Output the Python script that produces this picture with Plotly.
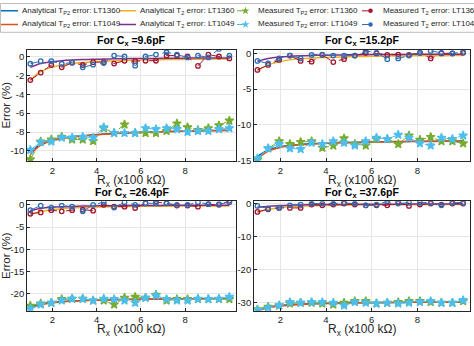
import plotly.graph_objects as go

W, H = 474, 346

# ---------------- data ----------------
x_rx = [1.00, 1.47, 1.95, 2.42, 2.89, 3.37, 3.84, 4.32, 4.79, 5.26,
        5.74, 6.21, 6.68, 7.16, 7.63, 8.11, 8.58, 9.05, 9.53, 10.00]

titles = ["For C<sub>x</sub> =9.6pF", "For C<sub>x</sub> =15.2pF",
          "For C<sub>x</sub> =26.4pF", "For C<sub>x</sub> =37.6pF"]

# analytical curves
ana_tp2_1360 = [
    [-10.2, -9.3, -8.9, -8.65, -8.5, -8.4, -8.3, -8.22, -8.16, -8.1, -8.06, -8.02, -7.98, -7.95, -7.92, -7.9, -7.88, -7.86, -7.84, -7.82],
    [-14.4, -13.5, -13.1, -12.9, -12.75, -12.65, -12.58, -12.52, -12.48, -12.44, -12.41, -12.38, -12.36, -12.34, -12.32, -12.3, -12.29, -12.28, -12.27, -12.26],
    [-23.0, -22.3, -21.95, -21.75, -21.6, -21.5, -21.42, -21.36, -21.31, -21.27, -21.23, -21.2, -21.17, -21.15, -21.13, -21.11, -21.09, -21.07, -21.06, -21.05],
    [-32.2, -31.3, -30.85, -30.6, -30.42, -30.3, -30.2, -30.12, -30.06, -30.01, -29.97, -29.93, -29.9, -29.87, -29.85, -29.83, -29.81, -29.79, -29.78, -29.77],
]
ana_tp2_1049 = [
    [-10.4, -9.4, -8.95, -8.7, -8.53, -8.42, -8.32, -8.24, -8.18, -8.12, -8.07, -8.03, -7.99, -7.96, -7.93, -7.91, -7.89, -7.87, -7.85, -7.83],
    [-14.7, -13.7, -13.2, -12.95, -12.8, -12.7, -12.62, -12.56, -12.51, -12.47, -12.44, -12.41, -12.39, -12.37, -12.35, -12.33, -12.32, -12.31, -12.3, -12.29],
    [-23.3, -22.5, -22.1, -21.85, -21.68, -21.56, -21.47, -21.4, -21.35, -21.3, -21.26, -21.23, -21.2, -21.17, -21.15, -21.13, -21.11, -21.09, -21.08, -21.07],
    [-32.5, -31.5, -31.0, -30.7, -30.5, -30.37, -30.26, -30.18, -30.11, -30.05, -30.0, -29.96, -29.93, -29.9, -29.87, -29.85, -29.83, -29.81, -29.8, -29.79],
]
ana_t2_1360 = [
    [-2.5, -1.6, -1.15, -0.9, -0.75, -0.64, -0.56, -0.5, -0.46, -0.42, -0.39, -0.37, -0.35, -0.33, -0.32, -0.3, -0.29, -0.28, -0.27, -0.26],
    [-2.4, -1.6, -1.15, -0.9, -0.75, -0.65, -0.57, -0.52, -0.48, -0.44, -0.41, -0.39, -0.37, -0.35, -0.34, -0.33, -0.32, -0.31, -0.3, -0.3],
    [-2.2, -1.5, -1.1, -0.85, -0.7, -0.6, -0.52, -0.46, -0.42, -0.38, -0.35, -0.33, -0.31, -0.29, -0.28, -0.27, -0.26, -0.25, -0.24, -0.23],
    [-2.6, -1.7, -1.25, -0.98, -0.8, -0.68, -0.6, -0.53, -0.48, -0.44, -0.41, -0.38, -0.36, -0.34, -0.32, -0.31, -0.3, -0.29, -0.28, -0.27],
]
ana_t2_1049 = [
    [-1.15, -0.75, -0.55, -0.45, -0.38, -0.33, -0.3, -0.27, -0.25, -0.23, -0.22, -0.21, -0.2, -0.19, -0.18, -0.17, -0.17, -0.16, -0.16, -0.15],
    [-1.1, -0.7, -0.5, -0.4, -0.33, -0.28, -0.25, -0.22, -0.2, -0.18, -0.17, -0.16, -0.15, -0.14, -0.13, -0.12, -0.12, -0.11, -0.11, -0.1],
    [-1.3, -0.8, -0.55, -0.42, -0.34, -0.28, -0.24, -0.21, -0.18, -0.16, -0.14, -0.13, -0.12, -0.11, -0.1, -0.09, -0.08, -0.08, -0.07, -0.07],
    [-1.2, -0.8, -0.6, -0.47, -0.39, -0.33, -0.29, -0.26, -0.23, -0.21, -0.19, -0.18, -0.17, -0.16, -0.15, -0.14, -0.13, -0.13, -0.12, -0.12],
]

# measured
meas_tp2_1360 = [
    [-10.9, -9.0, -8.8, -8.5, -8.8, -8.8, -8.95, -7.6, -8.1, -7.2, -8.1, -8.1, -8.1, -7.9, -7.1, -7.5, -7.8, -7.6, -7.3, -6.8],
    [-14.9, -13.3, -12.3, -12.7, -12.4, -12.3, -13.2, -12.9, -11.9, -12.7, -12.9, -12.0, -12.0, -12.7, -11.5, -12.1, -11.7, -12.3, -12.3, -12.6],
    [-22.7, -22.2, -22.0, -21.2, -21.1, -21.1, -21.5, -21.5, -22.4, -20.9, -20.7, -20.9, -20.2, -21.5, -21.2, -21.2, -21.2, -21.2, -21.2, -21.2],
    [-32.0, -31.2, -30.8, -30.2, -30.0, -30.0, -30.2, -30.5, -30.0, -29.5, -29.5, -30.2, -30.0, -29.8, -29.5, -29.5, -29.8, -30.0, -30.0, -29.5],
]
meas_tp2_1049 = [
    [-9.9, -9.1, -9.0, -8.6, -8.6, -8.5, -8.6, -7.5, -8.1, -8.1, -8.1, -7.6, -7.7, -7.6, -7.7, -8.0, -7.9, -7.9, -7.7, -7.6],
    [-14.7, -13.3, -12.7, -13.3, -13.4, -12.5, -12.7, -12.3, -12.5, -12.9, -12.3, -11.8, -12.0, -11.4, -11.8, -12.6, -12.9, -11.8, -12.0, -11.5],
    [-23.3, -22.4, -22.0, -21.5, -21.1, -21.1, -21.5, -21.1, -21.2, -21.5, -22.0, -20.9, -20.4, -21.2, -21.5, -21.5, -21.1, -21.2, -21.1, -20.7],
    [-32.2, -31.5, -30.8, -29.8, -30.0, -29.8, -29.8, -30.0, -30.8, -29.8, -30.0, -30.2, -30.0, -30.2, -30.0, -29.8, -29.5, -30.0, -30.0, -29.2],
]
meas_t2_1360 = [
    [-2.5, -1.7, -0.9, -1.15, -0.65, -0.9, -0.6, -0.6, -0.75, -0.45, -0.5, -0.45, -0.45, 0.1, 0.1, 0.0, -1.0, 0.2, 0.0, -0.2],
    [-2.3, -1.6, -0.9, -0.3, -1.05, -1.15, -0.2, -1.2, -0.8, -0.3, 0.1, 0.0, -0.2, -0.15, -0.2, 0.1, -0.7, 0.0, 0.0, 0.1],
    [-2.0, -1.7, -1.2, -1.45, -1.2, -1.1, -1.3, 0.0, -0.4, -0.4, -0.7, 0.35, 0.7, 0.35, -0.15, -0.15, -0.4, 0.15, 0.0, 0.9],
    [-2.5, -1.7, -1.3, -1.3, -1.3, -0.3, -0.5, -0.3, 0.0, -0.3, -0.5, -0.5, -0.5, 0.5, -0.7, -0.3, 0.0, -0.3, 0.0, 0.0],
]
meas_t2_1049 = [
    [-0.77, -0.5, -0.5, -0.77, -0.64, -1.15, -0.87, -0.7, 0.1, 0.0, -0.97, 0.0, 0.2, 0.45, 0.2, -0.1, 0.1, -0.1, 0.8, 0.1],
    [-1.05, -1.4, -0.7, -0.3, -0.7, -0.2, -0.15, -0.3, -0.3, -0.3, 0.35, 0.1, -0.8, -0.7, -0.3, 0.1, 0.35, 0.1, 0.0, 0.2],
    [-1.2, -0.15, -0.6, -0.15, -0.4, -1.45, 0.0, 0.6, -0.6, 0.6, 0.0, 0.35, 0.35, 0.35, 0.0, 0.0, 0.6, 0.15, 0.15, 0.6],
    [-0.7, -1.5, -1.3, -0.5, -0.3, 0.0, 0.0, 0.0, 0.3, 0.0, -0.5, -0.3, 0.7, 0.0, 0.3, 0.3, 0.3, -0.5, 0.3, 0.3],
]

y_ranges = [[-11.1, 0.7], [-15.1, 0.5], [-23.8, 0.8], [-32.4, 0.7]]
y_ticks = [[-10, -8, -6, -4, -2, 0], [-15, -10, -5, 0], [-20, -15, -10, -5, 0], [-30, -20, -10, 0]]
x_ticks = [2, 4, 6, 8]
x_range = [0.85, 10.3]

# ---------------- styles ----------------
C_BLUE = "#0072BD"
C_ORANGE = "#EDB120"
C_RED = "#D95319"
C_PURPLE = "#7E2F8E"
C_GREEN = "#77AC30"
C_DRED = "#A2142F"
C_CYAN = "#4DBEEE"
C_CBLUE = "#2E6DB4"
TXT = "#262626"
FONT = "Liberation Sans, Arial, sans-serif"

# panel pixel boxes: (left, right, top, bottom)
boxes = [(27, 236, 48, 162), (254, 470, 48, 162), (27, 236, 203, 315), (254, 470, 203, 315)]

fig = go.Figure()
layout = dict(
    width=W, height=H, margin=dict(l=0, r=0, t=0, b=0),
    paper_bgcolor="white", plot_bgcolor="white", showlegend=False,
    font=dict(family=FONT, color=TXT),
)

annotations = []
shapes = []

for i in range(4):
    l, r, t, b = boxes[i]
    xa = "xaxis" if i == 0 else f"xaxis{i+1}"
    ya = "yaxis" if i == 0 else f"yaxis{i+1}"
    xr = "x" if i == 0 else f"x{i+1}"
    yr = "y" if i == 0 else f"y{i+1}"
    common = dict(showline=True, mirror=True, linecolor=TXT, linewidth=0.8,
                  ticks="inside", ticklen=3, tickcolor=TXT, showgrid=True,
                  gridcolor="#e6e6e6", gridwidth=0.8, zeroline=False,
                  ticklabeloverflow="allow", layer="above traces",
                  tickfont=dict(size=9.5, color="#1a1a1a", family=FONT))
    layout[xa] = dict(domain=[l / W, r / W], range=x_range, anchor=yr,
                      tickmode="array", tickvals=x_ticks,
                      ticktext=[str(v) for v in x_ticks], **common)
    layout[ya] = dict(domain=[1 - b / H, 1 - t / H], range=y_ranges[i], anchor=xr,
                      tickmode="array", tickvals=y_ticks[i],
                      ticktext=[str(v) for v in y_ticks[i]], **common)

    # analytical lines
    for ys, col in [(ana_tp2_1360[i], C_BLUE), (ana_tp2_1049[i], C_RED),
                    (ana_t2_1360[i], C_ORANGE), (ana_t2_1049[i], C_PURPLE)]:
        fig.add_trace(go.Scatter(x=x_rx, y=ys, mode="lines", xaxis=xr, yaxis=yr,
                                 line=dict(color=col, width=1.5, shape="spline")))
    # measured
    for ys, col, sym, sz in [(meas_tp2_1360[i], C_GREEN, "star", 6.5),
                             (meas_tp2_1049[i], C_CYAN, "star", 6.5),
                             (meas_t2_1360[i], C_DRED, "circle-open", 4.5),
                             (meas_t2_1049[i], C_CBLUE, "circle-open", 4.5)]:
        fig.add_trace(go.Scatter(x=x_rx, y=ys, mode="lines+markers", xaxis=xr, yaxis=yr,
                                 line=dict(color=col, width=1, dash="dash"),
                                 marker=dict(symbol=sym, size=sz, color=col,
                                             line=dict(color=col, width=1.3))))

    cx = (l + r) / 2 / W
    title_y = t - 9
    annotations.append(dict(text="<b>" + titles[i] + "</b>", x=cx, y=1 - title_y / H,
                            xref="paper", yref="paper", showarrow=False,
                            xanchor="center", yanchor="middle",
                            font=dict(size=10.5, color="black", family=FONT)))
    annotations.append(dict(text="R<sub>x</sub> (x100 k\u03a9)", x=cx, y=1 - (b + 20) / H,
                            xref="paper", yref="paper", showarrow=False,
                            xanchor="center", yanchor="middle",
                            font=dict(size=12, color=TXT, family=FONT)))
    if i in (0, 2):
        annotations.append(dict(text="Error (%)", x=6 / W, y=1 - ((t + b) / 2) / H,
                                xref="paper", yref="paper", showarrow=False, textangle=-90,
                                xanchor="center", yanchor="middle",
                                font=dict(size=11.5, color=TXT, family=FONT)))

# ---------------- manual legend ----------------
layout["xaxis5"] = dict(domain=[0, 1], range=[0, W], visible=False, fixedrange=True, anchor="y5")
layout["yaxis5"] = dict(domain=[1 - 30 / H, 1], range=[30, 0], visible=False, fixedrange=True, anchor="x5")

legend_items = [
    ("Analytical T<sub>P2</sub> error: LT1360", C_BLUE, None, 1, 8),
    ("Analytical T<sub>2</sub> error: LT1360", C_ORANGE, None, 119, 8),
    ("Measured T<sub>P2</sub> error: LT1360", C_GREEN, "star", 237, 8),
    ("Measured T<sub>2</sub> error: LT1360", C_DRED, "circle", 362, 8),
    ("Analytical T<sub>P2</sub> error: LT1049", C_RED, None, 1, 22),
    ("Analytical T<sub>2</sub> error: LT1049", C_PURPLE, None, 119, 22),
    ("Measured T<sub>P2</sub> error: LT1049", C_CYAN, "star", 237, 22),
    ("Measured T<sub>2</sub> error: LT1049", C_CBLUE, "circle", 362, 22),
]
for text, col, sym, x0, yrow in legend_items:
    x1 = x0 + 17
    if sym is None:
        fig.add_trace(go.Scatter(x=[x0, x1], y=[yrow, yrow], mode="lines", xaxis="x5", yaxis="y5",
                                 line=dict(color=col, width=1.5), hoverinfo="skip"))
    else:
        fig.add_trace(go.Scatter(x=[x0, x1], y=[yrow, yrow], mode="lines", xaxis="x5", yaxis="y5",
                                 line=dict(color=col, width=1, dash="dash"), hoverinfo="skip"))
        fig.add_trace(go.Scatter(x=[(x0 + x1) / 2], y=[yrow], mode="markers", xaxis="x5", yaxis="y5",
                                 marker=dict(symbol=sym, size=6 if sym == "star" else 4.5, color=col),
                                 hoverinfo="skip"))
    annotations.append(dict(text=text, x=(x1 + 2) / W, y=1 - yrow / H, xref="paper", yref="paper",
                            showarrow=False, xanchor="left", yanchor="middle",
                            font=dict(size=8, color=TXT, family=FONT)))

shapes.append(dict(type="rect", xref="paper", yref="paper", x0=0.5 / W, x1=1.3,
                   y0=1 - 30 / H, y1=1 - 0.5 / H, line=dict(color="#bdbdbd", width=1),
                   fillcolor="rgba(0,0,0,0)", layer="below"))

layout["annotations"] = annotations
layout["shapes"] = shapes
fig.update_layout(**layout)
fig.write_html("out.html")
